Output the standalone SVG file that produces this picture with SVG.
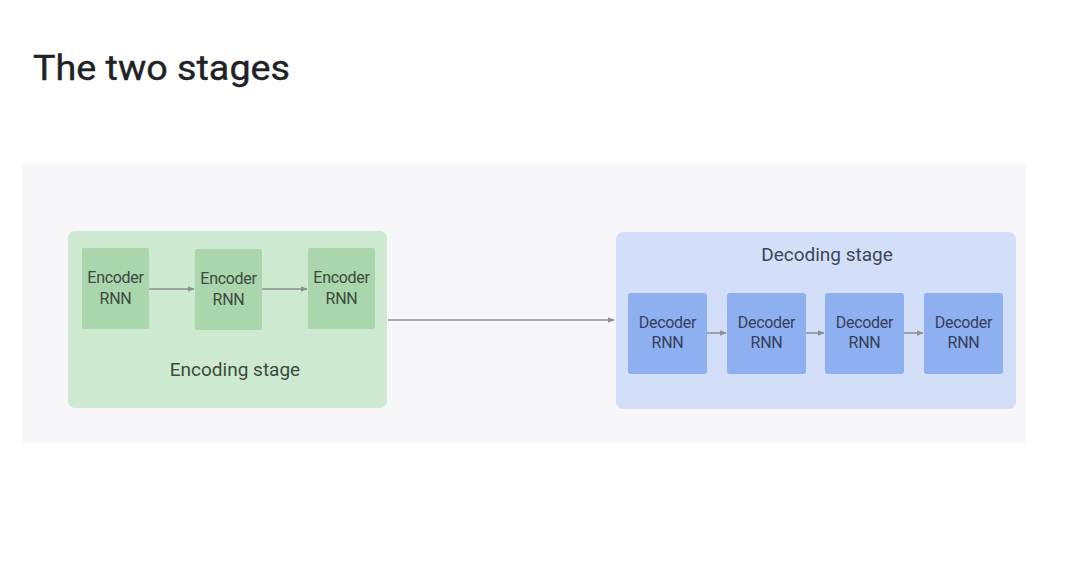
<svg xmlns="http://www.w3.org/2000/svg" width="1078" height="567" viewBox="0 0 1078 567">
<defs>
<style>
.title{font-family:Roboto,"Liberation Sans",sans-serif;font-size:35px;font-weight:400;fill:#202124;stroke:#202124;stroke-width:0.4}
.enc{fill:#a9d6ac}
.dec{fill:#8eaff0}
.lbl{font-family:Roboto,"Liberation Sans",sans-serif;font-size:16px;fill:#3c4a3e;text-anchor:middle;letter-spacing:-0.3px}
.dlbl{font-family:Roboto,"Liberation Sans",sans-serif;font-size:16px;fill:#34405a;text-anchor:middle;letter-spacing:-0.3px}
.stage{font-family:Roboto,"Liberation Sans",sans-serif;font-size:19px;text-anchor:middle}
.conn{stroke:#8c9190;stroke-width:1.5;fill:none;marker-end:url(#ah)}
</style>
<marker id="ah" viewBox="0 0 10 10" refX="9" refY="5" markerWidth="7" markerHeight="7" markerUnits="userSpaceOnUse" orient="auto">
<path d="M0,1 L10,5 L0,9 z" fill="#8c9190"/>
</marker>
</defs>
<rect width="1078" height="567" fill="#ffffff"/>
<text class="title" x="33" y="80" textLength="257" lengthAdjust="spacingAndGlyphs">The two stages</text>
<rect x="22" y="163" width="1004" height="280" fill="#f7f7f9"/>
<g id="encoding-stage">
<rect x="68" y="231" width="319" height="177" rx="7" fill="#cde9d0"/>
<text class="stage" x="235" y="376" fill="#3c4a3e">Encoding stage</text>
</g>
<g id="decoding-stage">
<rect x="616" y="232" width="400" height="177" rx="7" fill="#d3dff8"/>
<text class="stage" x="827" y="261" fill="#3d4657">Decoding stage</text>
</g>
<g id="enc1"><rect class="enc" x="82" y="248" width="67" height="81" rx="2"/><text class="lbl" x="115.5" y="283">Encoder</text><text class="lbl" x="115.5" y="304">RNN</text></g>
<g id="enc2"><rect class="enc" x="195" y="249" width="67" height="81" rx="2"/><text class="lbl" x="228.5" y="284">Encoder</text><text class="lbl" x="228.5" y="305">RNN</text></g>
<g id="enc3"><rect class="enc" x="308" y="248" width="67" height="81" rx="2"/><text class="lbl" x="341.5" y="283">Encoder</text><text class="lbl" x="341.5" y="304">RNN</text></g>
<g id="dec1"><rect class="dec" x="628" y="293" width="79" height="81" rx="3"/><text class="dlbl" x="667.5" y="328">Decoder</text><text class="dlbl" x="667.5" y="348">RNN</text></g>
<g id="dec2"><rect class="dec" x="727" y="293" width="79" height="81" rx="3"/><text class="dlbl" x="766.5" y="328">Decoder</text><text class="dlbl" x="766.5" y="348">RNN</text></g>
<g id="dec3"><rect class="dec" x="825" y="293" width="79" height="81" rx="3"/><text class="dlbl" x="864.5" y="328">Decoder</text><text class="dlbl" x="864.5" y="348">RNN</text></g>
<g id="dec4"><rect class="dec" x="924" y="293" width="79" height="81" rx="3"/><text class="dlbl" x="963.5" y="328">Decoder</text><text class="dlbl" x="963.5" y="348">RNN</text></g>
<g id="connectors">
<line class="conn" x1="149" y1="289" x2="194" y2="289"/>
<line class="conn" x1="262" y1="289" x2="307" y2="289"/>
<line class="conn" x1="388" y1="320" x2="614" y2="320"/>
<line class="conn" x1="707" y1="333" x2="726" y2="333"/>
<line class="conn" x1="806" y1="333" x2="824" y2="333"/>
<line class="conn" x1="904" y1="333" x2="923" y2="333"/>
</g>
</svg>
